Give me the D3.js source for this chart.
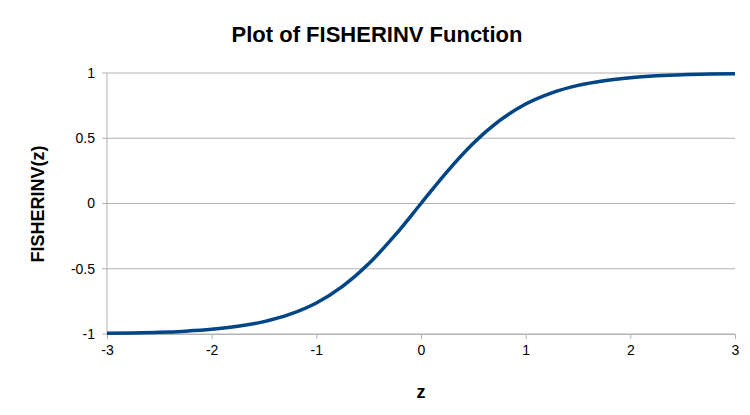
<!DOCTYPE html>
<html><head><meta charset="utf-8">
<script src="https://cdn.jsdelivr.net/npm/d3@7"></script>
<style>body{margin:0;background:#fff}</style></head>
<body><svg id="c" width="750" height="415"></svg>
<script>
const zValues = [-3,-2.75,-2.5,-2.25,-2,-1.75,-1.5,-1.25,-1,-0.75,-0.5,-0.25,0,0.25,0.5,0.75,1,1.25,1.5,1.75,2,2.25,2.5,2.75,3];
const fisherinvValues = [-0.995,-0.992,-0.987,-0.978,-0.964,-0.941,-0.905,-0.848,-0.762,-0.635,-0.462,-0.245,0,0.245,0.462,0.635,0.762,0.848,0.905,0.941,0.964,0.978,0.987,0.992,0.995];
const xTicks = [-3,-2,-1,0,1,2,3];
const yTicks = [-1,-0.5,0,0.5,1];

const svg = d3.select("#c");
const L=107,R=735,T=73,B=334;
const x = d3.scaleLinear().domain([-3,3]).range([L,R]);
const y = d3.scaleLinear().domain([-1,1]).range([B,T]);
const font="Liberation Sans, Arial, sans-serif";

svg.append("g").selectAll("line").data(yTicks).join("line")
  .attr("x1",L).attr("x2",R).attr("y1",d=>y(d)).attr("y2",d=>y(d))
  .attr("stroke","#b3b3b3").attr("stroke-width",1);
svg.append("line").attr("x1",L).attr("x2",L).attr("y1",T).attr("y2",B).attr("stroke","#b3b3b3");

const xa = svg.append("g").attr("transform",`translate(0,${B})`)
  .call(d3.axisBottom(x).tickValues(xTicks).tickSize(5).tickFormat(d=>String(d)));
xa.select(".domain").attr("stroke","#b3b3b3");
xa.selectAll(".tick line").attr("stroke","#b3b3b3");
xa.selectAll("text").attr("font-family",font).attr("font-size",14).attr("fill","#000").attr("dy","0.9em");

svg.append("g").selectAll("text").data(yTicks).join("text")
  .attr("x",L-12).attr("y",d=>y(d)).attr("dy","0.35em").attr("text-anchor","end")
  .attr("font-family",font).attr("font-size",14).text(d=>String(d));
svg.append("g").selectAll("line").data(yTicks).join("line")
  .attr("x1",L-5).attr("x2",L).attr("y1",d=>y(d)).attr("y2",d=>y(d)).attr("stroke","#b3b3b3");

const data = zValues.map((z,i)=>[z,fisherinvValues[i]]);
svg.append("path").datum(data)
  .attr("d",d3.line().x(d=>x(d[0])).y(d=>y(d[1])).curve(d3.curveMonotoneX))
  .attr("fill","none").attr("stroke","#004586").attr("stroke-width",3.5);

svg.append("text").attr("x",377).attr("y",42).attr("text-anchor","middle")
  .attr("font-family",font).attr("font-weight","bold").attr("font-size",22).text("Plot of FISHERINV Function");
svg.append("text").attr("x",421).attr("y",398).attr("text-anchor","middle")
  .attr("font-family",font).attr("font-weight","bold").attr("font-size",18).text("z");
svg.append("text").attr("transform","translate(44,204) rotate(-90)").attr("text-anchor","middle")
  .attr("font-family",font).attr("font-weight","bold").attr("font-size",18).text("FISHERINV(z)");
</script></body></html>
